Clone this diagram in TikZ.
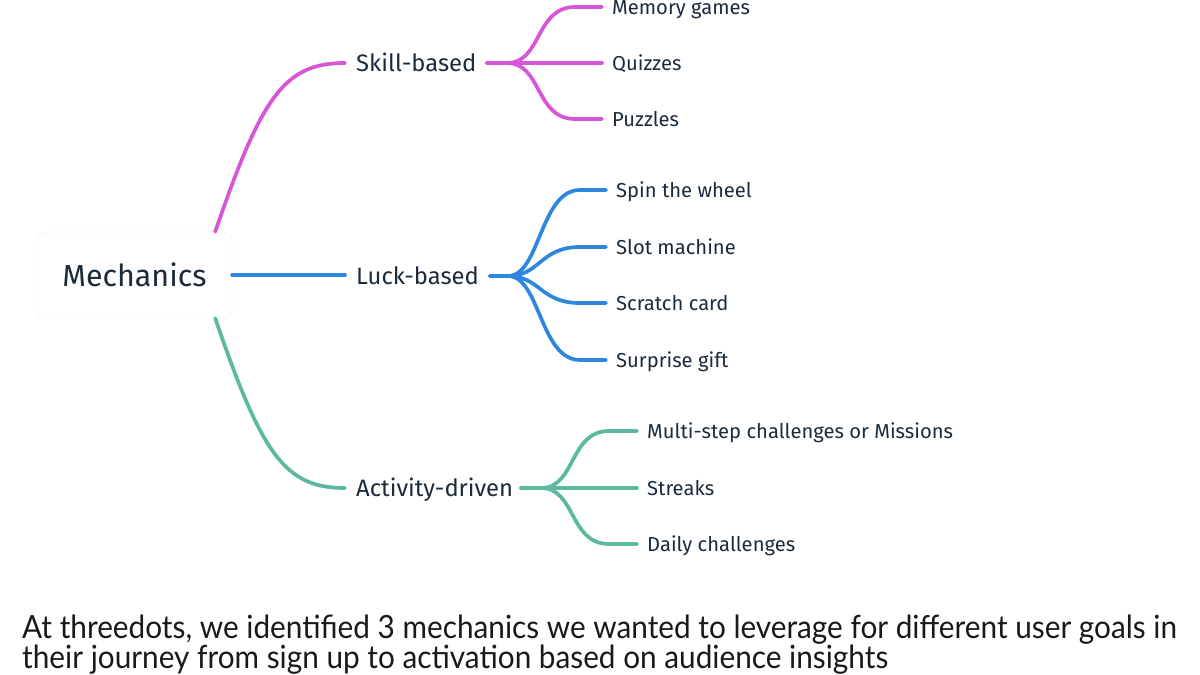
\documentclass[tikz,border=0pt]{standalone}
\usepackage{fontspec}
\setmainfont{Fira Sans}
\newfontfamily\bodyfont[FakeStretch=0.93]{Lato}
\begin{document}
\begin{tikzpicture}[x=1pt,y=-1pt,
  root/.style={draw=black!6,fill=white,rounded corners=8pt,minimum width=195pt,minimum height=86pt,font=\fontsize{30.4}{33}\selectfont,text=inkc},
  lvl/.style={anchor=base west,inner sep=0pt,font=\fontsize{23.8}{26}\selectfont,text=inkc},
  leaf/.style={anchor=base west,inner sep=0pt,font=\fontsize{20.2}{23}\selectfont,text=inkc},
  br/.style={line width=3.7pt,line cap=round},
]
\definecolor{inkc}{HTML}{1B2B3C}
\definecolor{mag}{HTML}{D655D8}
\definecolor{blu}{HTML}{2E87DE}
\definecolor{tea}{HTML}{5BB9A2}
\useasboundingbox (0,0) rectangle (1200,675);

\node[root] (mech) at (134.5,275) {Mechanics};

\node[lvl] (skill) at (356,71) {Skill-based};
\node[lvl] (luck) at (356,284) {Luck-based};
\node[lvl] (act) at (356,496) {Activity-driven};

\node[leaf] (mem) at (612,14) {Memory games};
\node[leaf] (quiz) at (612,70) {Quizzes};
\node[leaf] (puz) at (612,126) {Puzzles};

\node[leaf] (spin) at (616,197) {Spin the wheel};
\node[leaf] (slot) at (616,254) {Slot machine};
\node[leaf] (scr) at (616,310) {Scratch card};
\node[leaf] (sur) at (616,367) {Surprise gift};

\node[leaf] (multi) at (647,438) {Multi-step challenges or Missions};
\node[leaf] (strk) at (647,495) {Streaks};
\node[leaf] (daily) at (647,551) {Daily challenges};

% branch anchor points
\coordinate (mt) at ([xshift=-17pt]mech.north east);
\coordinate (mb) at ([xshift=-17pt]mech.south east);
\coordinate (sk) at (345,63);
\coordinate (lk) at (345,275);
\coordinate (ak) at (345,488);
\coordinate (sko) at (487,63);
\coordinate (lko) at (490,276);
\coordinate (ako) at (521,488);

% main branches
\draw[br,mag] (mt) .. controls (262,95) and (285,63) .. (sk);
\draw[br,blu] (mech.east) -- (lk);
\draw[br,tea] (mb) .. controls (262,455) and (285,488) .. (ak);

% skill children
\foreach \c/\y in {mem/7,quiz/63,puz/119}{
  \draw[br,mag] (sko) -- ++(20,0) .. controls (542,63) and (535,\y) .. (575,\y) -- ([xshift=-10pt]\c.west |- 0,\y);
}
% luck children
\foreach \c/\y in {spin/190,slot/247,scr/303,sur/360}{
  \draw[br,blu] (lko) -- ++(18,0) .. controls (540,276) and (540,\y) .. (580,\y) -- ([xshift=-10pt]\c.west |- 0,\y);
}
% activity children
\foreach \c/\y in {multi/431,strk/488,daily/544}{
  \draw[br,tea] (ako) -- ++(20,0) .. controls (576,488) and (569,\y) .. (609,\y) -- ([xshift=-10pt]\c.west |- 0,\y);
}

\node[anchor=base west,inner sep=0pt,align=left,text=black!90,font=\bodyfont\fontsize{32}{30}\selectfont] (body) at (22,668)
{At threedots, we identified 3 mechanics we wanted to leverage for different user goals in\\their journey from sign up to activation based on audience insights};
\end{tikzpicture}
\end{document}
